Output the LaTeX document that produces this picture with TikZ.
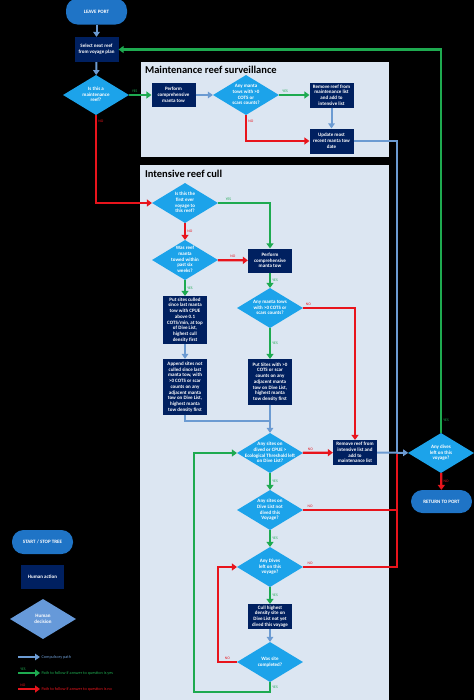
\documentclass[tikz,border=0pt]{standalone}
\usepackage{fontspec}
\setmainfont{Carlito}
\usepackage{tikz}
\usetikzlibrary{arrows.meta,shapes.geometric}

\definecolor{navy}{HTML}{002060}
\definecolor{cyanq}{HTML}{1CA3EA}
\definecolor{termblue}{HTML}{1F74C6}
\definecolor{legdia}{HTML}{6699D9}
\definecolor{panelbg}{HTML}{DCE6F2}
\definecolor{mustblue}{HTML}{6C9BD2}
\definecolor{yesgreen}{HTML}{1EAA50}
\definecolor{nored}{HTML}{E8141C}

% text inside a diamond, kept from growing the shape
\newcommand{\dtext}[1]{\smash{\raisebox{-2.5pt}{\makebox[0pt]{\begin{tabular}{@{}c@{}}#1\end{tabular}}}}}

\begin{document}
\begin{tikzpicture}
[
x=2pt, y=-2pt,
act/.style={rectangle, fill=navy, text=white, font=\bfseries\fontsize{10}{11.5}\selectfont, align=center, inner sep=1pt, minimum width=88pt, minimum height=50pt},
ask/.style={diamond, fill=cyanq, text=white, font=\bfseries\fontsize{10}{11.5}\selectfont, inner sep=0pt, minimum width=132pt, minimum height=80pt},
term/.style={rectangle, rounded corners=23pt, fill=termblue, text=white, font=\bfseries\fontsize{10}{11.5}\selectfont, minimum width=122pt, minimum height=46pt},
panel/.style={fill=panelbg},
paneltitle/.style={anchor=west, inner sep=0pt, text=black, font=\bfseries\fontsize{21}{24}\selectfont},
yeslbl/.style={text=yesgreen, font=\fontsize{7.5}{8}\selectfont, inner sep=2.5pt},
nolbl/.style={text=nored, font=\fontsize{7.5}{8}\selectfont, inner sep=2.5pt},
legtxt/.style={anchor=west, inner sep=0pt, inner xsep=3pt, font=\fontsize{8.5}{10}\selectfont},
mustline/.style={draw=mustblue, line width=4pt},
yesline/.style={draw=yesgreen, line width=4.5pt},
noline/.style={draw=nored, line width=4.5pt},
mustarr/.style={mustline, -{Triangle[length=10pt,width=13pt]}},
yesarr/.style={yesline, -{Triangle[length=10pt,width=14pt]}},
noarr/.style={noline, -{Triangle[length=10pt,width=14pt]}}
]
\useasboundingbox (0,0) rectangle (474,700);
\fill[black] (0,0) rectangle (474,700);

%Panels
\fill[panel] (141,62) rectangle (389,157);
\fill[panel] (140,165) rectangle (389,700);
\node[paneltitle] (mtitle) at (145,70) {Maintenance reef surveillance};
\node[paneltitle] (ititle) at (145,173.5) {Intensive reef cull};

%Nodes
\node[term, minimum height=52pt] (leave) at (96.5,11.5) {LEAVE PORT};
\node[act] (sel) at (96.5,49.5) {Select next reef\\from voyage plan};
\node[ask] (qmaint) at (96,95) {\dtext{Is this a\\maintenance\\reef?}};
\node[act, minimum height=49pt] (perfm) at (173.5,95) {Perform\\comprehensive\\manta tow};
\node[ask] (qmcots) at (246,95) {\dtext{Any manta\\tows with >0\\COTS or\\scars counts?}};
\node[act] (remm) at (331.5,95) {Remove reef from\\maintenance list\\and add to\\intensive list};
\node[act] (updm) at (331.5,141) {Update most\\recent manta tow\\date};

\node[ask] (qfirst) at (185,203) {\dtext{Is this the\\first ever\\voyage to\\this reef?}};
\node[ask] (qsix) at (185,260) {\dtext{Was reef\\manta\\towed within\\past six\\weeks?}};
\node[act, minimum height=48pt] (perfi) at (270,260.5) {Perform\\comprehensive\\manta tow};
\node[ask] (qicots) at (270,308) {\dtext{Any manta tows\\with >0 COTS or\\scars counts?}};
\node[act, minimum height=96pt] (putcull) at (185,320) {Put sites culled\\since last manta\\tow with CPUE\\above 0.1\\COTS/min, at top\\of Dive List,\\highest cull\\density first};
\node[act, minimum height=112pt] (append) at (185,387) {Append sites not\\culled since last\\manta tow, with\\>0 COTS or scar\\counts on any\\adjacent manta\\tow on Dive List,\\highest manta\\tow density first};
\node[act, minimum height=92pt] (putadj) at (270,382) {Put Sites with >0\\COTS or scar\\counts on any\\adjacent manta\\tow on Dive List,\\highest manta\\tow density first};
\node[ask] (qleft) at (270,453) {\dtext{Any sites on\\dived or CPUE >\\Ecological Threshold left\\on Dive List?}};
\node[act] (remi) at (355,452.5) {Remove reef from\\intensive list and\\add to\\maintenance list};
\node[ask] (qundived) at (270,510) {\dtext{Any sites on\\Dive List not\\dived this\\Voyage?}};
\node[ask] (qdives) at (270,567) {\dtext{Any Dives\\left on this\\voyage?}};
\node[act] (cull) at (270,616.5) {Cull highest\\density site on\\Dive List not yet\\dived this voyage};
\node[ask] (qdone) at (270,662) {\dtext{Was site\\completed?}};

\node[ask] (qvoyage) at (441,453) {\dtext{Any dives\\left on this\\voyage?}};
\node[term] (ret) at (441.5,501.5) {RETURN TO PORT};

\coordinate (jmust) at (397,453);
\coordinate (jappend) at (270,421);
\coordinate (jno) at (397,454);

%Legend
\node[term, minimum height=48pt] (lgstart) at (42.5,542) {START / STOP TREE};
\node[act, minimum width=86pt, minimum height=48pt] (lgact) at (42.5,577) {Human action};
\node[ask, fill=legdia] (lgdec) at (43,619) {\dtext{Human\\decision}};
\coordinate (lgm) at (18,657);
\coordinate (lgy) at (18,673);
\coordinate (lgn) at (18,689);
\node[legtxt, text=mustblue] (lgmt) at (40,657) {Compulsory path};
\node[legtxt, text=yesgreen] (lgyt) at (40,673) {Path to follow if answer to question is yes};
\node[legtxt, text=nored] (lgnt) at (40,689) {Path to follow if answer to question is no};

%Lines
\draw[mustarr] (leave) -- (sel);
\draw[mustarr] (sel) -- (qmaint);
\draw[yesarr] (qmaint) -- node[yeslbl, above, pos=0.25] {YES} (perfm);
\draw[mustarr] (perfm) -- (qmcots);
\draw[yesarr] (qmcots) -- node[yeslbl, above, pos=0.2] {YES} (remm);
\draw[mustarr] (remm) -- (updm);
\draw[noarr] (qmcots.south) |- node[nolbl, right, pos=0.12] {NO} (updm.west);
\draw[mustline] (updm.east) -| (jmust);
\draw[mustarr] (remi) -- (qvoyage);
\draw[noarr] (qvoyage) -- node[nolbl, right] {NO} (ret);
\draw[yesarr] (qvoyage.north) |- node[yeslbl, right, pos=0.016] {YES} (sel.east);

\draw[noarr] (qmaint.south) |- node[nolbl, right, pos=0.035] {NO} (qfirst.west);
\draw[yesarr] (qfirst.east) -| node[yeslbl, above, pos=0.1] {YES} (perfi.north);
\draw[noarr] (qfirst) -- node[nolbl, right] {NO} (qsix);
\draw[noarr] (qsix) -- node[nolbl, above] {NO} (perfi);
\draw[yesarr] (qsix) -- node[yeslbl, right] {YES} (putcull);
\draw[yesarr] (perfi) -- node[yeslbl, right] {YES} (qicots);
\draw[yesarr] (qicots) -- node[yeslbl, right] {YES} (putadj);
\draw[noarr] (qicots.east) -| node[nolbl, above, pos=0.05] {NO} (remi.north);
\draw[mustarr] (putcull) -- (append);
\draw[mustline] (append.south) |- (jappend);
\draw[mustarr] (putadj) -- (qleft);
\draw[noarr] (qleft) -- node[nolbl, above, pos=0.25] {NO} (remi);
\draw[yesarr] (qleft) -- node[yeslbl, right] {YES} (qundived);
\draw[noline] (qundived.east) -- node[nolbl, above, pos=0.075] {NO} (qundived.east -| jno);
\draw[yesarr] (qundived) -- node[yeslbl, right] {YES} (qdives);
\draw[noline] (qdives.east) -| node[nolbl, above, pos=0.037] {NO} (jno);
\draw[yesarr] (qdives) -- node[yeslbl, right] {YES} (cull);
\draw[mustarr] (cull) -- (qdone);
\draw[noarr] (qdone.west) -- node[nolbl, above] {NO} ++(-19,0) |- (qdives.west);
\draw[yesarr] (qdone.south) -- node[yeslbl, right] {YES} ++(0,10) -| (194,500) |- (qleft.west);

\draw[mustarr] (lgm) -- (lgmt.west);
\draw[yesarr] (lgy) -- node[yeslbl, pos=0, anchor=south west] {YES} (lgyt.west);
\draw[noarr] (lgn) -- node[nolbl, pos=0, anchor=south west] {NO} (lgnt.west);

\end{tikzpicture}
\end{document}
